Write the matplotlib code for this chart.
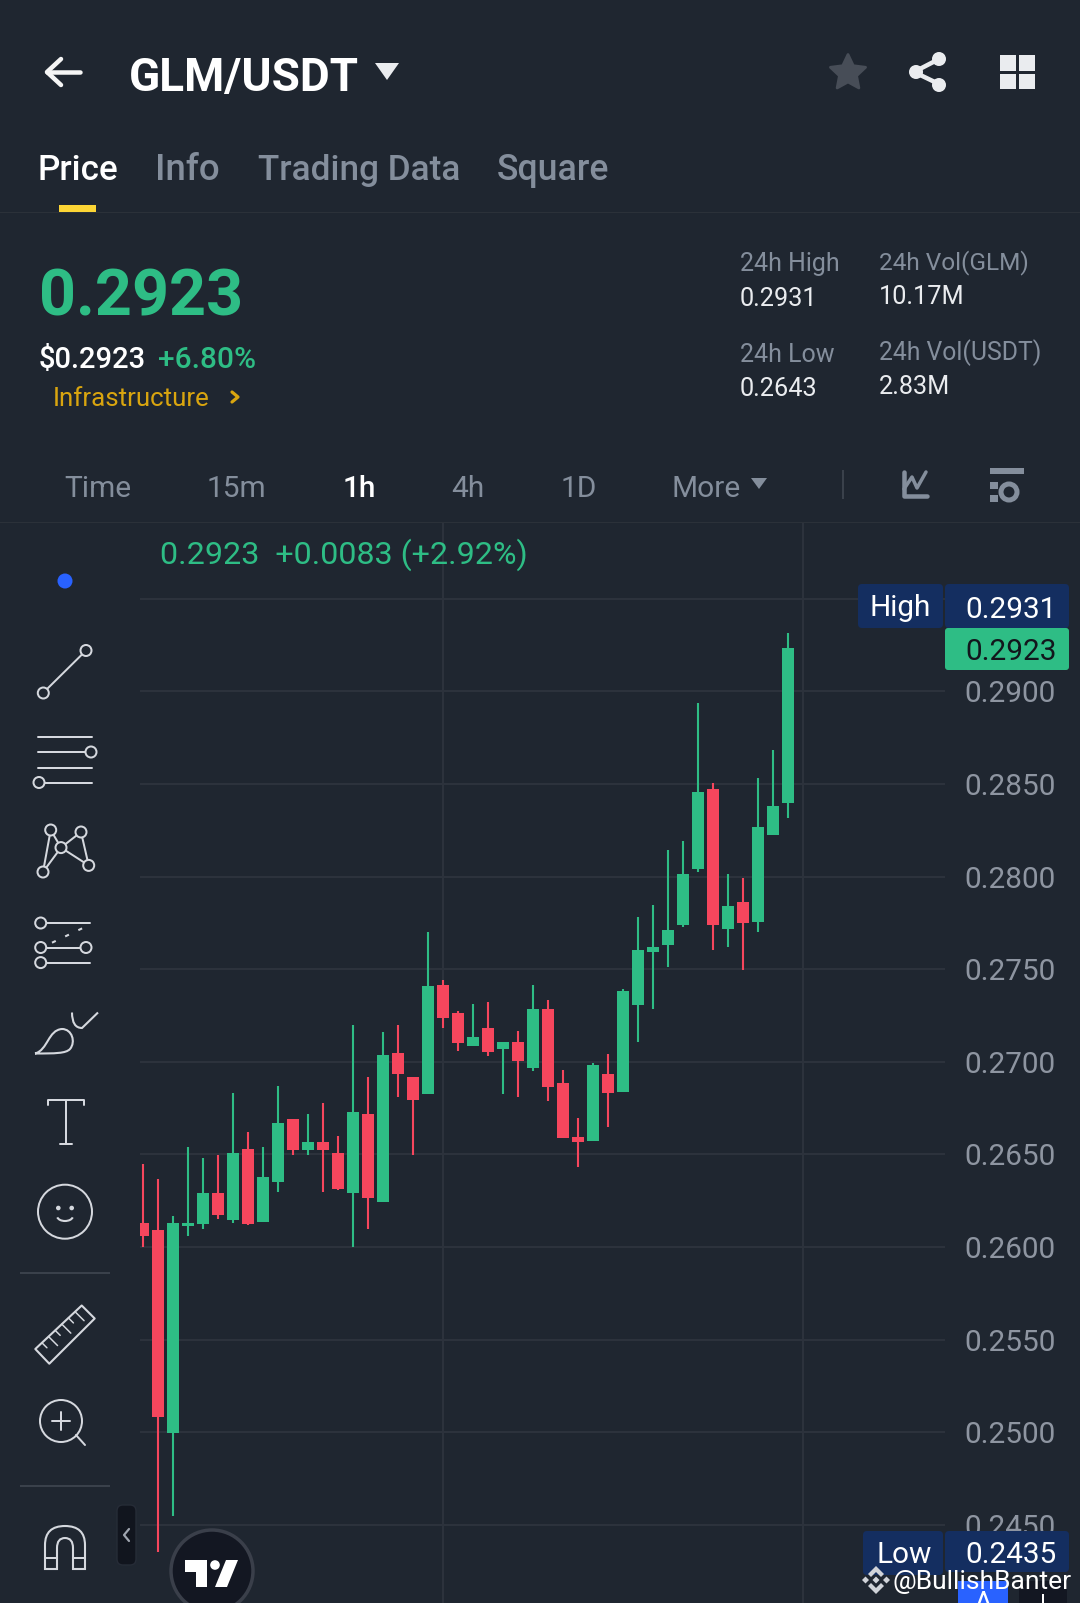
import math
import matplotlib
matplotlib.use("Agg")
import matplotlib.pyplot as plt
from matplotlib.patches import Circle, Rectangle, FancyBboxPatch, Polygon, Arc, PathPatch
from matplotlib.path import Path

plt.rcParams['font.family'] = ['Roboto', 'DejaVu Sans']

# ---- data -----------------------------------------------------------------
highs = [.26448,.26368,.26165,.2654,.26482,.26497,.26833,.26622,.2654,.26869,
         .26692,.26719,.26777,.26601,.27198,.26917,.27162,.27198,.26917,.27701,
         .27439,.27273,.27311,.27321,.27105,.27165,.27414,.27333,.26955,.26697,
         .26993,.27042,.27392,.2778,.27845,.28142,.2819,.2894,.28503,.28013,
         .27992,.28532,.28682,.29314]
lows  = [.26001,.24352,.2455,.26061,.26098,.26151,.26132,.26117,.26136,.26298,
         .26497,.26497,.26298,.26308,.26001,.26098,.26243,.26811,.26497,.26828,
         .2718,.27061,.27088,.27034,.26824,.26812,.26953,.26791,.26587,.26431,
         .26575,.2665,.26835,.27109,.27283,.2751,.2773,.28023,.27601,.27622,
         .27493,.27703,.28227,.28314]
tops  = [.26132,.26093,.26132,.26127,.26291,.26291,.26509,.2653,.26378,.26671,
         .26692,.26567,.26567,.26509,.26729,.26719,.27036,.27048,.26917,.27408,
         .27414,.27263,.27132,.2718,.27105,.27105,.27284,.27284,.26886,.26593,
         .26982,.26934,.27381,.27603,.27622,.27709,.28013,.28458,.28472,.27843,
         .27861,.28269,.28383,.29233]
bots  = [.26057,.2508,.24998,.26115,.26124,.26173,.26146,.26124,.26136,.26352,
         .26523,.26523,.26523,.26315,.26291,.26264,.26243,.26934,.26794,.26828,
         .27234,.271,.27088,.27055,.27067,.27007,.26965,.26866,.26587,.26566,
         .26575,.2683,.26835,.27304,.27595,.27628,.27736,.2804,.27736,.27716,
         .27747,.27757,.28227,.28395]
rising = [0,0,1,1,1,0,1,0,1,1,0,1,0,0,1,0,1,0,0,1,
          0,0,1,0,1,0,1,0,0,0,1,0,1,1,1,1,1,1,0,1,
          0,1,1,1]
price_ticks = [0.2450,0.2500,0.2550,0.2600,0.2650,0.2700,0.2750,0.2800,0.2850,0.2900,0.2950]
hidden_tick = 0.2950
vgrid_idx = [20,44]
timeframes = ["Time","15m","1h","4h","1D","More"]
tabs = ["Price","Info","Trading Data","Square"]

# ---- colours --------------------------------------------------------------
BG = '#1F2630'; GRID = '#2D333D'; UP = '#2EBD85'; DOWN = '#F6465D'
GREY = '#848E9C'; TICK = '#8E95A1'; WHITE = '#EAECEF'; TAG = '#142E60'; ICON = '#D5D8DE'

W, H = 1080, 1603
fig = plt.figure(figsize=(W/100, H/100), dpi=100, facecolor=BG)

# ---- chart ----------------------------------------------------------------
TOP_PX = 523
ax = fig.add_axes([140/W, 0, 805/W, 1-TOP_PX/H], facecolor=BG)
ax.set_xlim(-0.2, 53.47)
ax.set_ylim(0.29-(H-691.4)/18520, 0.29+(691.4-TOP_PX)/18520)
for s in ax.spines.values():
    s.set_visible(False)
ax.set_xticks(vgrid_idx); ax.set_xticklabels([])
ax.set_yticks(price_ticks)
ax.set_yticklabels(['' if p == hidden_tick else f'{p:.4f}' for p in price_ticks])
ax.yaxis.tick_right()
ax.tick_params(axis='both', length=0)
ax.tick_params(axis='y', labelsize=21.4, labelcolor=TICK, pad=14.3)
ax.grid(True, color=GRID, lw=1.4)
ax.set_axisbelow(True)
xs = list(range(len(highs)))
cols = [UP if r else DOWN for r in rising]
ax.vlines(xs, lows, highs, colors=cols, lw=1.5, zorder=3)
ax.bar(xs, [max(t-b, 0.00012) for t, b in zip(tops, bots)], bottom=bots, width=0.8, color=cols, zorder=4, lw=0)

# ---- UI overlay -----------------------------------------------------------
ui = fig.add_axes([0, 0, 1, 1], facecolor='none')
ui.set_xlim(0, W); ui.set_ylim(H, 0); ui.axis('off')

def T(x, y, s, size, color=WHITE, weight='normal', ha='left', **k):
    return ui.text(x, y, s, fontsize=size, color=color, fontweight=weight, ha=ha, va='center_baseline', **k)
def L(xs_, ys_, lw=2.0, c=ICON, **k):
    ui.plot(xs_, ys_, color=c, lw=lw*0.72, solid_capstyle='round', **k)
def C(x, y, r, lw=2.0, c=ICON, fc='none', z=5):
    ui.add_patch(Circle((x, y), r, fc=fc, ec=c, lw=lw*0.72, zorder=z))
def R(x0, y0, x1, y1, c, z=2):
    ui.add_patch(Rectangle((x0, y0), x1-x0, y1-y0, fc=c, ec='none', zorder=z))
def RB(x0, y0, x1, y1, c, r=5, z=2, ec='none'):
    ui.add_patch(FancyBboxPatch((x0+r, y0+r), x1-x0-2*r, y1-y0-2*r, boxstyle=f'round,pad={r},rounding_size={r}',
                                fc=c, ec=ec, zorder=z, mutation_aspect=1))

# header
L([47, 80], [72, 72], lw=4.5, c='#F5F5F5')
L([61, 47, 61], [59, 72, 85], lw=4.5, c='#F5F5F5')
T(129, 73, 'GLM/USDT', 33, '#FFFFFF', 'bold')
ui.add_patch(Polygon([(375, 63), (399, 63), (387, 80)], fc=WHITE, ec='none'))
pts = []
for i in range(10):
    r_ = 18.5 if i % 2 == 0 else 9
    a = math.radians(-90+36*i)
    pts.append((848+r_*math.cos(a), 73+r_*math.sin(a)))
ui.add_patch(Polygon(pts, fc='#474D57', ec='#474D57', lw=2, joinstyle='round'))
L([914, 941], [72, 58], lw=4.5, c=WHITE); L([914, 941], [72, 85], lw=4.5, c=WHITE)
for (a, b) in [(916, 72), (939, 59), (939, 85)]:
    C(a, b, 6, fc=WHITE, c=WHITE)
for a, b in [(1000, 55), (1019, 55), (1000, 73.5), (1019, 73.5)]:
    R(a, b, a+15.5, b+15.5, WHITE)

# tabs
tab_x = [37.5, 155, 258, 497]
tab_sz = [25.2, 26.5, 25.3, 25.7]
for i, (name, x, sz) in enumerate(zip(tabs, tab_x, tab_sz)):
    T(x, 167, name, sz, '#FFFFFF' if i == 0 else GREY, 'medium')
R(0, 211.5, W, 213, '#2B3139')
R(59, 204.5, 96, 212, '#FCD535', z=3)

# price block
T(38.5, 291, '0.2923', 46.5, UP, 'bold')
T(39, 357, '$0.2923', 21, '#FFFFFF', 'medium')
T(158, 357, '+6.80%', 21.5, UP, 'medium')
T(53, 397, 'Infrastructure', 18.6, '#D9A50F')
L([232, 238, 232], [392, 397, 402], lw=3.2, c='#D9A50F')
T(740, 262, '24h High', 18, GREY)
T(740, 297, '0.2931', 18.2, WHITE)
T(879, 260, '24h Vol(GLM)', 17.6, GREY)
T(879, 295, '10.17M', 18.2, WHITE)
T(740, 352, '24h Low', 18, GREY)
T(740, 386, '0.2643', 18.2, WHITE)
T(879, 350, '24h Vol(USDT)', 17.8, GREY)
T(879, 385, '2.83M', 18.2, WHITE)

# timeframe row
tf_x = [64, 207, 343, 451, 561, 672]
for name, x in zip(timeframes, tf_x):
    sel = name == '1h'
    T(x, 486, name, 21.5, '#FFFFFF' if sel else GREY, 'medium' if sel else 'normal')
ui.add_patch(Polygon([(751, 478), (767, 478), (759, 489)], fc=GREY, ec='none'))
R(842, 470, 844, 499, '#3A414B')
L([904, 904, 927], [472, 496, 496], lw=4.5, c=GREY)
L([904, 912, 917, 926], [489, 477, 488, 472], lw=3.5, c=GREY)
R(990, 468, 1024, 474, GREY)
R(990, 482, 998, 489, GREY); R(990, 495, 998, 502, GREY)
C(1009, 492, 8, lw=5, c=GREY)
R(0, 521.5, W, 523, '#2B3139')

# OHLC readout
T(160, 551, '0.2923  +0.0083 (+2.92%)', 23.2, UP)

# left toolbar
ui.add_patch(Circle((65, 581), 7.5, fc='#2962FF', ec='none'))
L([43, 86], [693, 650.5]); C(43.3, 693, 5.5, fc=BG); C(86, 650.5, 5.5, fc=BG)
for y_ in (737, 752, 767.5, 782.5):
    L([38, 92], [y_, y_])
C(91, 752, 5.5, fc=BG); C(39, 782.5, 5.5, fc=BG)
xp = [(43, 872), (50.7, 830), (61, 847.6), (81, 832), (88.7, 865.4)]
for a, b in [(0, 1), (1, 2), (0, 2), (2, 3), (3, 4), (2, 4)]:
    L([xp[a][0], xp[b][0]], [xp[a][1], xp[b][1]])
for p_ in xp:
    C(p_[0], p_[1], 5.5, fc=BG)
for y_ in (923, 947.5, 962.6):
    L([41, 90], [y_, y_])
ui.plot([52, 85], [942.7, 927], color=ICON, lw=1.5, ls=(0, (2, 5)))
for a, b in [(40.7, 923), (40.7, 947.5), (86, 947.5), (40.7, 962.6)]:
    C(a, b, 5.5, fc=BG)
brush = Path([(35, 1053.5), (48, 1050), (48, 1030), (62, 1029), (72, 1029), (76, 1042), (70, 1049),
              (66, 1053.5), (55, 1053.5), (35, 1053.5)],
             [Path.MOVETO] + [Path.CURVE4]*9)
ui.add_patch(PathPatch(brush, fc='none', ec=ICON, lw=1.5))
handle = Path([(72, 1012.5), (72, 1028), (82, 1028), (98, 1012.5)], [Path.MOVETO, Path.CURVE3, Path.CURVE3, Path.LINETO])
ui.add_patch(PathPatch(handle, fc='none', ec=ICON, lw=1.5))
L([48, 48, 84, 84], [1105, 1100, 1100, 1105]); L([66, 66], [1100, 1144]); L([60, 72], [1144, 1144])
C(65, 1211.7, 27)
C(58.3, 1208, 1.3, fc=ICON); C(71.7, 1208, 1.3, fc=ICON)
ui.add_patch(Arc((65, 1216), 16, 10, theta1=10, theta2=170, ec=ICON, lw=1.5))
R(20, 1272, 110, 1274, '#3A414B')
ui.add_patch(Polygon([(35.3, 1349), (81.7, 1305.5), (94.7, 1318.5), (49.3, 1363.7)], fc='none', ec=ICON, lw=1.5, joinstyle='round'))
for i in range(1, 7):
    f = i/7
    a, b = 35.3+46.4*f, 1349-43.5*f
    L([a, a+(5 if i % 2 else 9)], [b, b+(5 if i % 2 else 9)], lw=1.5)
C(61, 1421, 21)
L([52, 70], [1421, 1421]); L([61, 61], [1412, 1430]); L([76, 85], [1435, 1445])
R(20, 1485, 110, 1487, '#3A414B')
ui.add_patch(PathPatch(Path([(45, 1569), (45, 1545), (45, 1526), (65, 1526), (85, 1526), (85, 1545), (85, 1569), (73, 1569), (73, 1548),
                             (73, 1538), (65, 1538), (57, 1538), (57, 1548), (57, 1569), (45, 1569)],
                            [Path.MOVETO, Path.LINETO, Path.CURVE3, Path.CURVE3, Path.CURVE3, Path.CURVE3, Path.LINETO, Path.LINETO, Path.LINETO,
                             Path.CURVE3, Path.CURVE3, Path.CURVE3, Path.CURVE3, Path.LINETO, Path.CLOSEPOLY]),
                       fc='none', ec=ICON, lw=1.5))
L([45, 57], [1558, 1558]); L([73, 85], [1558, 1558])
RB(117, 1505, 136, 1565, '#11151E', r=6, ec='#262C37')
L([129, 124, 129], [1529, 1535, 1541], lw=2.2, c='#A0A6B0')

# TradingView badge
ui.add_patch(Circle((212, 1571), 41, fc='#131722', ec='#3A3F4A', lw=2.5, zorder=3))
ui.add_patch(Polygon([(185, 1560), (207, 1560), (207, 1587), (196, 1587), (196, 1572), (185, 1572)], fc='#FFFFFF', ec='none', zorder=4))
ui.add_patch(Circle((215, 1565), 4.8, fc='#FFFFFF', ec='none', zorder=4))
ui.add_patch(Polygon([(226, 1560), (238, 1560), (227, 1587), (215, 1587)], fc='#FFFFFF', ec='none', zorder=4))

# High / last / Low tags
RB(858, 584, 943, 628, TAG, r=4)
RB(945, 584, 1069, 628, TAG, r=4)
T(900, 605, 'High', 21.4, '#FFFFFF', ha='center', zorder=6)
T(965, 607, '0.2931', 21.4, '#FFFFFF', zorder=6)
RB(945, 628, 1069, 670, UP, r=3, z=3)
T(965, 649, '0.2923', 21.4, '#12161C', zorder=6)
RB(863, 1531, 943, 1575, TAG, r=4)
RB(945, 1531, 1069, 1572, TAG, r=4)
T(904, 1552, 'Low', 21.4, '#FFFFFF', ha='center', zorder=6)
T(965, 1552, '0.2435', 21.4, '#FFFFFF', zorder=6)

# bottom buttons and watermark
R(958, 1581, 1008, H, '#2962FF', z=4)
T(983, 1601, 'A', 21, '#FFFFFF', ha='center', zorder=5, clip_on=True)
R(1019, 1581, 1067, H, '#131722', z=4)
R(1042, 1594, 1044, H, '#FFFFFF', z=5)
T(893, 1580, '@BullishBanter', 19, '#FFFFFF', zorder=8)
LOGO = '#D0D3D8'
cx, cy = 876, 1580
for sgn in (-1, 1):
    ui.add_patch(Polygon([(cx, cy+sgn*14), (cx+8, cy+sgn*6), (cx+5, cy+sgn*3), (cx, cy+sgn*8),
                          (cx-5, cy+sgn*3), (cx-8, cy+sgn*6)], fc=LOGO, ec='none', zorder=8))
    ui.add_patch(Polygon([(cx+sgn*14, cy), (cx+sgn*10.5, cy-3.5), (cx+sgn*7, cy), (cx+sgn*10.5, cy+3.5)], fc=LOGO, ec='none', zorder=8))
ui.add_patch(Polygon([(cx-3.5, cy), (cx, cy-3.5), (cx+3.5, cy), (cx, cy+3.5)], fc=LOGO, ec='none', zorder=8))

fig.savefig('out.png', dpi=100, facecolor=BG)
